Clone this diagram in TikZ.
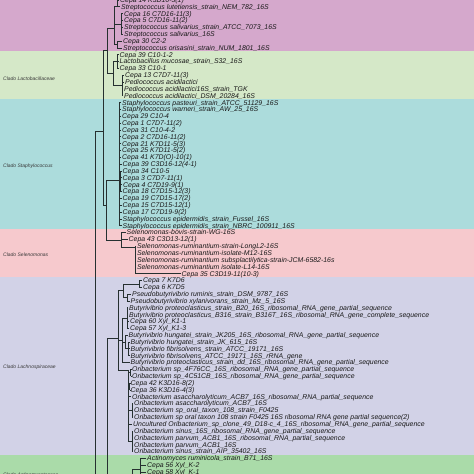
\documentclass[tikz,border=0pt]{standalone}
\usepackage{fontspec}
\setmainfont{Liberation Sans}
\definecolor{bPurple}{HTML}{D5A8CC}
\definecolor{bGreenA}{HTML}{D5E8C8}
\definecolor{bCyan}{HTML}{ACDCDC}
\definecolor{bPink}{HTML}{F6C9CD}
\definecolor{bLav}{HTML}{D2D2E7}
\definecolor{bGreenB}{HTML}{AADBA9}
\definecolor{treeline}{HTML}{263030}
\newcommand\Y[1]{(((#1)-1)*6.84)}
\tikzset{
  leaflabel/.style={anchor=base west, inner sep=0pt, font=\fontsize{6.9}{8}\selectfont\itshape, text=black!90},
  branch/.style={draw=treeline, line width=0.7pt},
  cladelabel/.style={anchor=west, inner sep=0pt, font=\fontsize{5}{6}\selectfont\itshape, text=black!78}
}
\newcommand\leaf[4]{%
  \node[leaflabel] (l#1) at (#3,{-\Y{#1}-2.4}) {#4};
  \coordinate (p#1) at (#2,{-\Y{#1}});
  \draw[branch] (p#1) -- ([xshift=-0.6pt]l#1.base west |- p#1);
}
\newcommand\vbr[3]{\draw[branch] (#1,{-(#2)}) -- (#1,{-(#3)});}
\newcommand\hbr[3]{\draw[branch] (#2,{-(#1)}) -- (#3,{-(#1)});}
\begin{document}
\begin{tikzpicture}[x=1pt,y=1pt]
\useasboundingbox (0,0) rectangle (474,-474);
\clip (0,0) rectangle (474,-474);
% bands
\fill[bPurple] (0,10) rectangle (474,-51.3);
\fill[bGreenA] (0,-51.3) rectangle (474,-99.2);
\fill[bCyan] (0,-99.2) rectangle (474,-229.1);
\fill[bPink] (0,-229.1) rectangle (474,-277);
\fill[bLav] (0,-277) rectangle (474,-454.9);
\fill[bGreenB] (0,-454.9) rectangle (474,-480);
% clade labels
\node[cladelabel] (c1) at (3,-79) {Clado Lactobacillaceae};
\node[cladelabel] (c2) at (3,-166) {Clado Staphylococcus};
\node[cladelabel] (c3) at (3,-255) {Clado Selenomonas};
\node[cladelabel] (c4) at (3,-367) {Clado Lachnospiraceae};
\node[cladelabel] (c5) at (3,-475) {Clado Actinomycetaceae};
% leaves
\leaf{1}{117}{120}{Cepa 14 K3D16-5(1)}
\leaf{2}{117}{121}{Streptococcus lutetiensis\_strain\_NEM\_782\_16S}
\leaf{3}{121}{124}{Cepa 16 C7D16-11(3)}
\leaf{4}{121}{124}{Cepa 5 C7D16-11(2)}
\leaf{5}{121}{124}{Streptococcus salivarius\_strain\_ATCC\_7073\_16S}
\leaf{6}{121}{124}{Streptococcus salivarius\_16S}
\leaf{7}{117}{123}{Cepa 30 C2-2}
\leaf{8}{117}{123}{Streptococcus orisasini\_strain\_NUM\_1801\_16S}
\leaf{9}{117}{119.5}{Cepa 39 C10-1-2}
\leaf{10}{117}{119.5}{Lactobacillus mucosae\_strain\_S32\_16S}
\leaf{11}{117}{119.5}{Cepa 33 C10-1}
\leaf{12}{122}{125}{Cepa 13 C7D7-11(3)}
\leaf{13}{122}{125}{Pediococcus acidilactici}
\leaf{14}{122}{124}{Pediococcus acidilactici16S\_strain\_TGK}
\leaf{15}{122}{124}{Pediococcus acidilactici\_DSM\_20284\_16S}
\leaf{16}{119}{122}{Staphylococcus pasteuri\_strain\_ATCC\_51129\_16S}
\leaf{17}{119}{122}{Staphylococcus warneri\_strain\_AW\_25\_16S}
\leaf{18}{119}{122}{Cepa 29 C10-4}
\leaf{19}{119}{122}{Cepa 1 C7D7-11(2)}
\leaf{20}{119}{122}{Cepa 31 C10-4-2}
\leaf{21}{119}{122}{Cepa 2 C7D16-11(2)}
\leaf{22}{119}{122}{Cepa 21 K7D11-5(3)}
\leaf{23}{119}{122}{Cepa 25 K7D11-5(2)}
\leaf{24}{119}{122}{Cepa 41 K7D(O)-10(1)}
\leaf{25}{119}{122.5}{Cepa 39 C3D16-12(4-1)}
\leaf{26}{120.5}{122.5}{Cepa 34 C10-5}
\leaf{27}{120.5}{122.5}{Cepa 3 C7D7-11(1)}
\leaf{28}{120.5}{123}{Cepa 4 C7D19-9(1)}
\leaf{29}{120.5}{122.5}{Cepa 18 C7D15-12(3)}
\leaf{30}{119}{122.5}{Cepa 19 C7D15-17(2)}
\leaf{31}{119}{122.5}{Cepa 15 C7D15-12(1)}
\leaf{32}{119}{122.5}{Cepa 17 C7D19-9(2)}
\leaf{33}{119}{122.5}{Staphylococcus epidermidis\_strain\_Fussel\_16S}
\leaf{34}{119}{122.5}{Staphylococcus epidermidis\_strain\_NBRC\_100911\_16S}
\leaf{35}{121}{126.5}{Selenomonas-bovis-strain-WG-16S}
\leaf{36}{121}{128.5}{Cepa 43 C3D13-12(1)}
\leaf{37}{135}{136.8}{Selenomonas-ruminantium-strain-LongL2-16S}
\leaf{38}{135}{136.8}{Selenomonas-ruminantium-isolate-M12-16S}
\leaf{39}{135}{136.8}{Selenomonas-ruminantium subsplactilytica-strain-JCM-6582-16s}
\leaf{40}{135}{136.8}{Selenomonas-ruminantium isolate-L14-16S}
\leaf{41}{135}{181.5}{Cepa 35 C3D19-11(10-3)}
\leaf{42}{139}{143}{Cepa 7 K7D6}
\leaf{43}{139}{143}{Cepa 6 K7D5}
\leaf{44}{127}{132}{Pseudobutyrivibrio ruminis\_strain\_DSM\_9787\_16S}
\leaf{45}{127}{130.5}{Pseudobutyrivibrio xylanivorans\_strain\_Mz\_5\_16S}
\leaf{46}{127}{129}{Butyrivibrio proteoclasticus\_strain\_B20\_16S\_ribosomal\_RNA\_gene\_partial\_sequence}
\leaf{47}{127}{129}{Butyrivibrio proteoclasticus\_B316\_strain\_B316T\_16S\_ribosomal\_RNA\_gene\_complete\_sequence}
\leaf{48}{127}{130}{Cepa 60 Xyl\_K1-1}
\leaf{49}{127}{130}{Cepa 57 Xyl\_K1-3}
\leaf{50}{125}{128.5}{Butyrivibrio hungatei\_strain\_JK205\_16S\_ribosomal\_RNA\_gene\_partial\_sequence}
\leaf{51}{128}{130.5}{Butyrivibrio hungatei\_strain\_JK\_615\_16S}
\leaf{52}{128}{130.5}{Butyrivibrio fibrisolvens\_strain\_ATCC\_19171\_16S}
\leaf{53}{128}{130.5}{Butyrivibrio fibrisolvens\_ATCC\_19171\_16S\_rRNA\_gene}
\leaf{54}{122}{130.5}{Butyrivibrio proteoclasticus\_strain\_dd\_16S\_ribosomal\_RNA\_gene\_partial\_sequence}
\leaf{55}{130.5}{132}{Oribacterium sp\_4F76CC\_16S\_ribosomal\_RNA\_gene\_partial\_sequence}
\leaf{56}{130.5}{132}{Oribacterium sp\_4C51CB\_16S\_ribosomal\_RNA\_gene\_partial\_sequence}
\leaf{57}{129.5}{130.5}{Cepa 42 K3D16-8(2)}
\leaf{58}{129.5}{130.5}{Cepa 36 K3D16-4(3)}
\leaf{59}{128}{132}{Oribacterium asaccharolyticum\_ACB7\_16S\_ribosomal\_RNA\_partial\_sequence}
\leaf{60}{132}{134}{Oribacterium asaccharolyticum\_ACB7\_16S}
\leaf{61}{132}{134}{Oribacterium sp\_oral\_taxon\_108\_strain\_F0425}
\leaf{62}{132}{134}{Oribacterium sp oral taxon 108 strain F0425 16S ribosomal RNA gene partial sequence(2)}
\leaf{63}{128}{133}{Uncultured Oribacterium\_sp\_clone\_49\_D18-c\_4\_16S\_ribosomal\_RNA\_gene\_partial\_sequence}
\leaf{64}{132}{134}{Oribacterium sinus\_16S\_ribosomal\_RNA\_gene\_partial\_sequence}
\leaf{65}{132}{134}{Oribacterium parvum\_ACB1\_16S\_ribosomal\_RNA\_partial\_sequence}
\leaf{66}{132}{134}{Oribacterium parvum\_ACB1\_16S}
\leaf{67}{132}{134}{Oribacterium sinus\_strain\_AIP\_35402\_16S}
\leaf{68}{140}{147}{Actinomyces ruminicola\_strain\_B71\_16S}
\leaf{69}{140}{147}{Cepa 56 Xyl\_K-2}
\leaf{70}{140}{147}{Cepa 58 Xyl\_K-1}
% internal structure: Streptococcus
\vbr{117}{-8}{6.84}
\vbr{121}{13.68}{34.2}
\vbr{117}{41.04}{47.88}
\vbr{114}{6.84}{44.5}
\hbr{6.84}{114}{117}
\hbr{24}{114}{121}
\hbr{44.5}{114}{117}
\vbr{107}{28}{73}
\hbr{28}{107}{114}
\hbr{73}{107}{113}
% Lactobacillaceae
\vbr{117}{54.72}{68.4}
\vbr{122}{75.24}{95.76}
\vbr{113}{61.56}{85.5}
\hbr{61.56}{113}{117}
\hbr{85.5}{113}{122}
\vbr{103}{50}{205}
\hbr{50}{103}{107}
\hbr{205}{103}{106}
% Staphylococcus
\vbr{119}{102.6}{225.72}
\vbr{120.5}{171}{191.5}
\hbr{181}{119}{120.5}
\vbr{106}{180}{240}
\hbr{180}{106}{119}
\hbr{240}{106}{121}
% Selenomonas
\vbr{121}{232.56}{247}
\hbr{247}{121}{135}
\vbr{135}{246.24}{273.6}
% root
\vbr{95}{131}{480}
\hbr{131}{95}{103}
% Lachnospiraceae
\vbr{139}{280.44}{287.28}
\vbr{127}{294.12}{300.96}
\vbr{123}{283.9}{297.5}
\hbr{283.9}{123}{139}
\hbr{297.5}{123}{127}
\vbr{127}{307.8}{328.32}
\vbr{128}{342}{355.68}
\vbr{125}{335.16}{348.8}
\hbr{348.8}{125}{128}
\vbr{122}{318}{362.52}
\hbr{318}{122}{127}
\hbr{342}{122}{125}
\vbr{118}{290.7}{370}
\hbr{290.7}{118}{123}
\hbr{340}{118}{122}
\hbr{370}{118}{128}
\vbr{107}{338}{480}
\hbr{338}{107}{118}
\vbr{128}{370}{441}
\vbr{130.5}{369.36}{376.2}
\hbr{372.8}{128}{130.5}
\vbr{129.5}{383.04}{389.88}
\hbr{386.5}{128}{129.5}
\vbr{132}{403.56}{417.24}
\hbr{410.4}{128}{132}
\vbr{132}{430.92}{451.44}
\hbr{441}{128}{132}
% Actinomyces
\vbr{140}{458.28}{480}
\hbr{469}{132}{140}
\vbr{132}{469}{480}
\end{tikzpicture}
\end{document}
